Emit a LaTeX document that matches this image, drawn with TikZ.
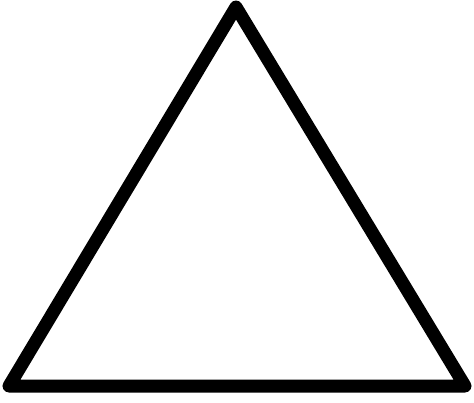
\documentclass[tikz,border=0pt]{standalone}
\begin{document}
\begin{tikzpicture}[x=1pt,y=-1pt,
  edge/.style={line width=13pt,line join=round,line cap=round,black}]
\useasboundingbox (0,0) rectangle (474,402);
\coordinate (apex) at (236,7);
\coordinate (bl) at (9,386);
\coordinate (br) at (465,386);
\draw[edge] (apex) -- (bl) -- (br) -- cycle;
\end{tikzpicture}
\end{document}
